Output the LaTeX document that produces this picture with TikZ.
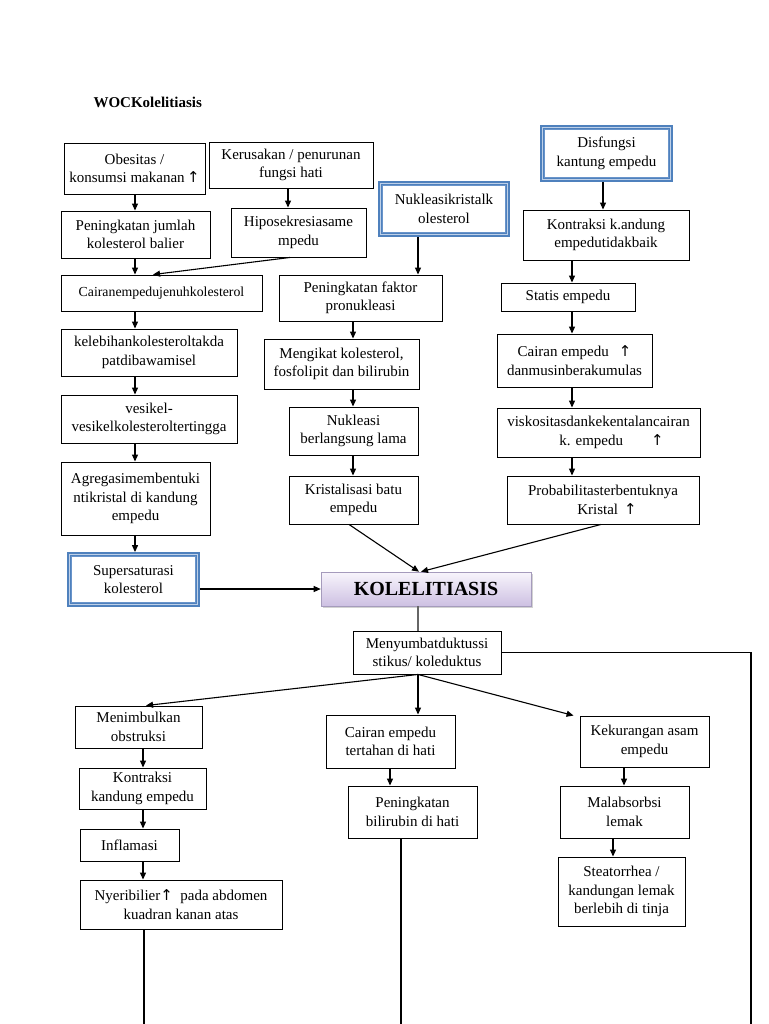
\documentclass[tikz,border=0pt]{standalone}
\usepackage{fontspec}
\setmainfont{Liberation Serif}
\newfontfamily\arrfont{DejaVu Sans}
\usetikzlibrary{arrows.meta,shadows}
\definecolor{bluec}{RGB}{79,129,189}
\definecolor{bluein}{RGB}{105,148,202}
\definecolor{blueband}{RGB}{190,208,232}
\definecolor{lavtop}{RGB}{248,245,252}
\definecolor{lavbot}{RGB}{205,192,226}
\definecolor{lavedge}{RGB}{165,155,188}
\newcommand{\up}{{\arrfont\fontsize{15}{15}\selectfont ↑}}
\begin{document}
\begin{tikzpicture}[x=1pt,y=-1pt,
  box/.style={draw, line width=0.9pt, align=center, inner sep=1pt,
    font=\fontsize{15}{18.5}\selectfont},
  bbox/.style={box, draw=bluec, line width=3.8pt},
  arr/.style={line width=1.1pt, -{Triangle[length=7pt,width=6pt]}},
  ln/.style={line width=1.1pt}]
\useasboundingbox (0,0) rectangle (768,1024);
\fill[white] (0,0) rectangle (768,1024);

\node[font=\bfseries\fontsize{15}{18}\selectfont, anchor=west] (title) at (90,102) {WOCKolelitiasis};

% left column
\node[box, minimum width=141, minimum height=51] (obes) at (134.5,168.5) {Obesitas /\\konsumsi makanan\,\up};
\node[box, minimum width=149, minimum height=47] (penjum) at (135.5,234.5) {Peningkatan jumlah\\kolesterol balier};
\node[box, minimum width=201, minimum height=36, font=\fontsize{13.8}{18}\selectfont] (cairan) at (161.5,293) {Cairanempedujenuhkolesterol};
\node[box, minimum width=176, minimum height=47] (keleb) at (149,352.5) {kelebihankolesteroltakda\\patdibawamisel};
\node[box, minimum width=176, minimum height=48] (vesik) at (149,419) {vesikel-\\vesikelkolesteroltertingga};
\node[box, minimum width=149, minimum height=73] (agreg) at (135.5,498.5) {Agregasimembentuki\\ntikristal di kandung\\empedu};
\node[bbox, minimum width=129, minimum height=51] (super) at (133.5,579.5) {Supersaturasi\\kolesterol};

% middle column
\node[box, minimum width=164, minimum height=46] (kerus) at (291,165) {Kerusakan / penurunan\\fungsi hati};
\node[box, minimum width=135, minimum height=49] (hipo) at (298.5,232.5) {Hiposekresiasame\\mpedu};
\node[bbox, minimum width=128, minimum height=52] (nukkr) at (444,209) {Nukleasikristalk\\olesterol};
\node[box, minimum width=163, minimum height=46] (penfak) at (360.5,298) {Peningkatan faktor\\pronukleasi};
\node[box, minimum width=155, minimum height=50] (mengik) at (341.5,364) {Mengikat kolesterol,\\fosfolipit dan bilirubin};
\node[box, minimum width=129, minimum height=48] (nukl) at (353.5,431) {Nukleasi\\berlangsung lama};
\node[box, minimum width=129, minimum height=48] (krist) at (353.5,500) {Kristalisasi batu\\empedu};

% right column
\node[bbox, minimum width=129, minimum height=53] (disf) at (606.5,153.5) {Disfungsi\\kantung empedu};
\node[box, minimum width=166, minimum height=50] (kontr) at (606,235) {Kontraksi k.andung\\empedutidakbaik};
\node[box, minimum width=134, minimum height=28] (statis) at (568,297) {Statis empedu};
\node[box, minimum width=155, minimum height=53] (cair2) at (574.5,360.5) {Cairan empedu\hspace{10pt}\up\\danmusinberakumulas};
\node[box, minimum width=203, minimum height=49] (visk) at (598.5,432.5) {viskositasdankekentalancairan\\\hspace{26pt}k. empedu\hspace{28pt}\up};
\node[box, minimum width=192, minimum height=48] (prob) at (603,500) {Probabilitasterbentuknya\\\hspace{8pt}Kristal\hspace{6pt}\up};

% center
\node[draw=lavedge, line width=0.6pt, top color=lavtop, bottom color=lavbot,
  drop shadow={shadow xshift=2pt, shadow yshift=-2pt, fill=black!35},
  minimum width=210, minimum height=34, inner sep=0pt,
  font=\bfseries\fontsize{20}{22}\selectfont] (kolel) at (426,589) {KOLELITIASIS};
\node[box, minimum width=148, minimum height=43] (menyum) at (427,652.5) {Menyumbatduktussi\\stikus/ koleduktus};

% lower left
\node[box, minimum width=127, minimum height=42] (menimb) at (138.5,727) {Menimbulkan\\obstruksi};
\node[box, minimum width=127, minimum height=41] (kontr2) at (142.5,788.5) {Kontraksi\\kandung empedu};
\node[box, minimum width=99, minimum height=32] (inflam) at (129.5,845) {Inflamasi};
\node[box, minimum width=202, minimum height=49] (nyeri) at (181,904.5) {Nyeribilier\up\ \ pada abdomen\\kuadran kanan atas};

% lower middle
\node[box, minimum width=129, minimum height=53] (cairtert) at (390.5,741.5) {Cairan empedu\\tertahan di hati};
\node[box, minimum width=129, minimum height=52] (penbil) at (412.5,812) {Peningkatan\\bilirubin di hati};

% lower right
\node[box, minimum width=129, minimum height=51] (kekur) at (644.5,741.5) {Kekurangan asam\\empedu};
\node[box, minimum width=129, minimum height=52] (malab) at (624.5,812) {Malabsorbsi\\lemak};
\node[box, minimum width=127, minimum height=69] (steat) at (621.5,891.5) {Steatorrhea /\\kandungan lemak\\berlebih di tinja};

% inner lines of the blue boxes
\foreach \b in {super,nukkr,disf}{
  \draw[blueband, line width=1.4pt] ([xshift=2.6pt,yshift=2.6pt]\b.south west) rectangle ([xshift=-2.6pt,yshift=-2.6pt]\b.north east);
  \draw[bluein, line width=1.1pt] ([xshift=4.6pt,yshift=4.6pt]\b.south west) rectangle ([xshift=-4.6pt,yshift=-4.6pt]\b.north east);
}

% free ends
\coordinate (endL) at (144,1024);
\coordinate (endM) at (401,1024);
\coordinate (endR) at (751,1024);

% connectors: left column
\draw[arr] (obes.south -| 135,0) -- (penjum.north -| 135,0);
\draw[arr] (penjum.south -| 135,0) -- (cairan.north -| 135,0);
\draw[arr] (cairan.south -| 135,0) -- (keleb.north -| 135,0);
\draw[arr] (keleb.south -| 135,0) -- (vesik.north -| 135,0);
\draw[arr] (vesik.south -| 135,0) -- (agreg.north -| 135,0);
\draw[arr] (agreg.south -| 135,0) -- (super.north -| 135,0);
\draw[arr] (super.east |- 0,589) -- (kolel.west |- 0,589);

% middle
\draw[arr] (kerus.south -| 288,0) -- (hipo.north -| 288,0);
\draw[arr] (hipo.south -| 290,0) -- (cairan.north -| 153,0);
\draw[arr] (nukkr.south -| 418,0) -- (penfak.north -| 418,0);
\draw[arr] (penfak.south -| 353,0) -- (mengik.north -| 353,0);
\draw[arr] (mengik.south -| 353,0) -- (nukl.north -| 353,0);
\draw[arr] (nukl.south -| 353,0) -- (krist.north -| 353,0);
\draw[arr] (krist.south -| 349,0) -- (kolel.north -| 419,0);

% right
\draw[arr] (disf.south -| 603,0) -- (kontr.north -| 603,0);
\draw[arr] (kontr.south -| 572,0) -- (statis.north -| 572,0);
\draw[arr] (statis.south -| 572,0) -- (cair2.north -| 572,0);
\draw[arr] (cair2.south -| 572,0) -- (visk.north -| 572,0);
\draw[arr] (visk.south -| 572,0) -- (prob.north -| 572,0);
\draw[arr] (prob.south -| 601,0) -- (kolel.north -| 421,0);

% center down
\draw[ln, black!60] (kolel.south -| 418,0) -- (menyum.north -| 418,0);
\draw[ln] (menyum.east) -| (endR);
\draw[arr] (menyum.south -| 418,0) -- (menimb.north -| 146,0);
\draw[arr] (menyum.south -| 418,0) -- (cairtert.north -| 418,0);
\draw[arr] (menyum.south -| 418,0) -- ([xshift=-6pt]kekur.north west);

% lower left
\draw[arr] (menimb.south -| 143,0) -- (kontr2.north -| 143,0);
\draw[arr] (kontr2.south -| 143,0) -- (inflam.north -| 143,0);
\draw[arr] (inflam.south -| 143,0) -- (nyeri.north -| 143,0);
\draw[ln] (nyeri.south -| 144,0) -- (endL);

% lower middle/right
\draw[arr] (cairtert.south -| 390,0) -- (penbil.north -| 390,0);
\draw[ln] (penbil.south -| 401,0) -- (endM);
\draw[arr] (kekur.south -| 624,0) -- (malab.north -| 624,0);
\draw[arr] (malab.south -| 613,0) -- (steat.north -| 613,0);
\end{tikzpicture}
\end{document}
